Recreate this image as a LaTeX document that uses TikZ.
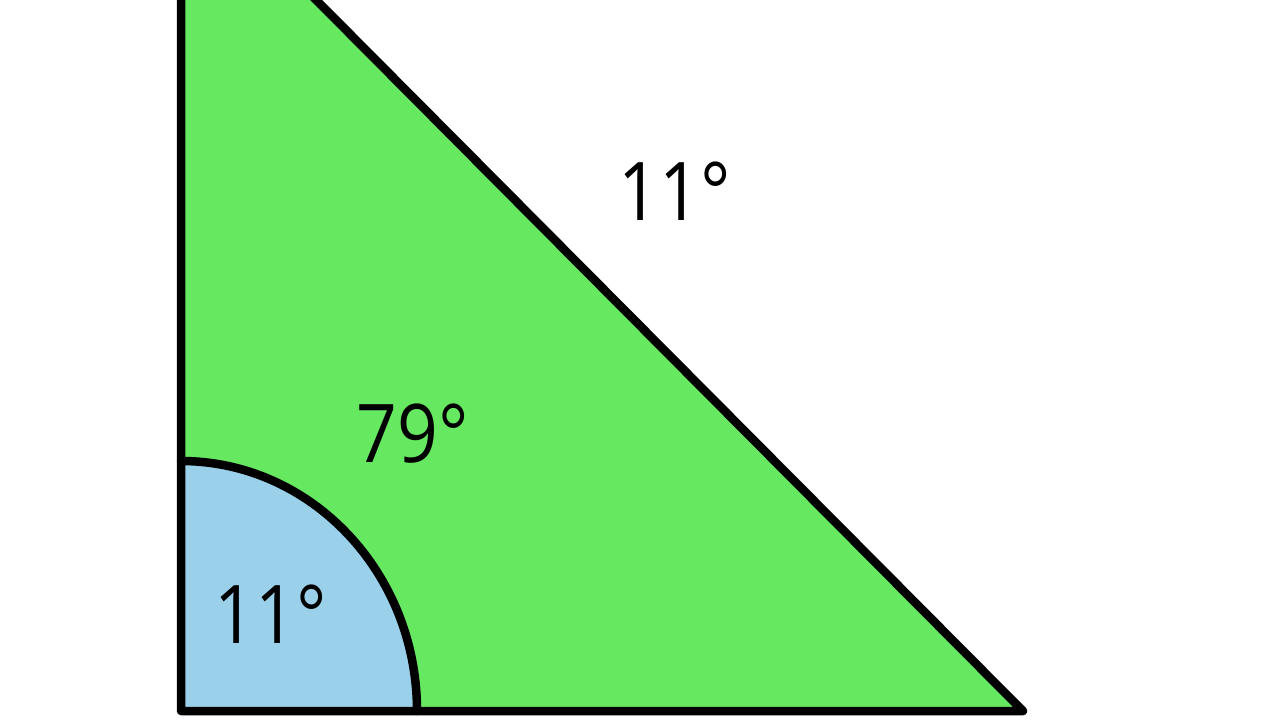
\documentclass[tikz,border=0pt]{standalone}
\usepackage{fontspec}
\setmainfont{Open Sans}
\newfontfamily\lblfont[FakeStretch=0.88]{Open Sans}
\definecolor{trigreen}{RGB}{102,232,96}
\definecolor{angblue}{RGB}{155,208,234}
\begin{document}
\begin{tikzpicture}[x=1pt,y=-1pt,
  edge/.style={line width=8.5pt,line join=round,line cap=round,black},
  lbl/.style={anchor=base,inner sep=0pt,font=\lblfont\fontsize{81}{90}\selectfont}]
\useasboundingbox (0,0) rectangle (1280,720);
\clip (0,0) rectangle (1280,720);
\coordinate (A) at (181,711);
\coordinate (B) at (1023,711);
\coordinate (C) at (181,-136);
\fill[trigreen] (A) -- (B) -- (C) -- cycle;
\fill[angblue] (A) -- (181,461) arc[start angle=90,end angle=0,x radius=236,y radius=-250] -- cycle;
\draw[edge] (181,461) arc[start angle=90,end angle=0,x radius=236,y radius=-250];
\draw[edge] (A) -- (B) -- (C) -- cycle;
\node[lbl] (t1) at (675,220) {11°};
\node[lbl] (t2) at (413,462) {79°};
\node[lbl] (t3) at (271,643) {11°};
\end{tikzpicture}
\end{document}
